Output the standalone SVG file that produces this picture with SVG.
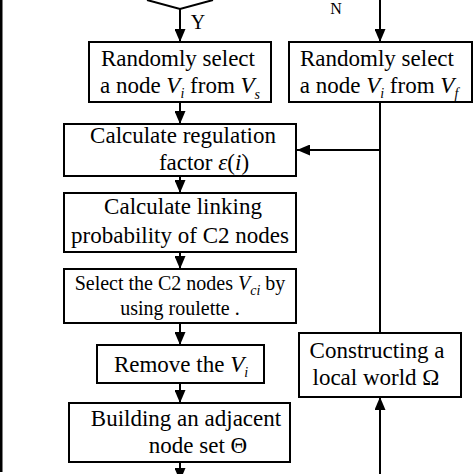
<svg xmlns="http://www.w3.org/2000/svg" width="474" height="474" viewBox="0 0 474 474">
<style>
.box{fill:#fff;stroke:#000;stroke-width:2}
.ln{fill:none;stroke:#000;stroke-width:2}
text{font-family:"Liberation Serif","Times New Roman",serif;font-size:23px;fill:#000;text-anchor:middle}
.sm{font-size:20px}
.it{font-style:italic}
.sub{font-size:14px;font-style:italic}
</style>
<defs>
<marker id="ah" viewBox="0 0 13 11" refX="13" refY="5.5" markerWidth="13" markerHeight="11" markerUnits="userSpaceOnUse" orient="auto"><path d="M0,0 L13,5.5 L0,11 z" fill="#000"/></marker>
</defs>
<rect x="0" y="0" width="2.5" height="472" fill="#000"/>
<g id="connectors">
<polyline class="ln" points="147,0 180,9 213,0"/>
<line class="ln" x1="180" y1="9" x2="180" y2="42" marker-end="url(#ah)"/>
<line class="ln" x1="380" y1="0" x2="380" y2="42" marker-end="url(#ah)"/>
<line class="ln" x1="180" y1="102" x2="180" y2="124" marker-end="url(#ah)"/>
<line class="ln" x1="180" y1="176" x2="180" y2="193" marker-end="url(#ah)"/>
<line class="ln" x1="180" y1="252" x2="180" y2="269" marker-end="url(#ah)"/>
<line class="ln" x1="180" y1="323" x2="180" y2="345" marker-end="url(#ah)"/>
<line class="ln" x1="180" y1="383" x2="180" y2="403" marker-end="url(#ah)"/>
<line class="ln" x1="180" y1="462" x2="180" y2="481" marker-end="url(#ah)"/>
<line class="ln" x1="380" y1="102" x2="380" y2="333"/>
<line class="ln" x1="380" y1="150" x2="297" y2="150" marker-end="url(#ah)"/>
<line class="ln" x1="380" y1="476" x2="380" y2="397" marker-end="url(#ah)"/>
<text x="198" y="29" style="font-size:20px">Y</text>
<text x="336" y="14" style="font-size:16px">N</text>
</g>
<g id="n1">
<rect class="box" x="89" y="42" width="182" height="60"/>
<text x="178" y="66">Randomly select</text>
<text x="180" y="93">a node <tspan class="it">V</tspan><tspan class="sub" dy="5">i</tspan><tspan dy="-5"> from </tspan><tspan class="it">V</tspan><tspan class="sub" dy="6">s</tspan></text>
</g>
<g id="n2">
<rect class="box" x="289" y="42" width="183" height="60"/>
<text x="377" y="66">Randomly select</text>
<text x="379" y="93">a node <tspan class="it">V</tspan><tspan class="sub" dy="5">i</tspan><tspan dy="-5"> from </tspan><tspan class="it">V</tspan><tspan class="sub" dy="5">f</tspan></text>
</g>
<g id="n3">
<rect class="box" x="64" y="124" width="232" height="52"/>
<text x="183" y="143">Calculate regulation</text>
<text x="204" y="170">factor <tspan class="it">ε</tspan>(<tspan class="it">i</tspan>)</text>
</g>
<g id="n4">
<rect class="box" x="64" y="193" width="232" height="59"/>
<text x="183" y="214">Calculate linking</text>
<text x="180" y="243">probability of C2 nodes</text>
</g>
<g id="n5">
<rect class="box" x="64" y="269" width="232" height="54"/>
<text class="sm" x="180" y="290">Select the C2 nodes <tspan class="it">V</tspan><tspan class="sub" dy="5">ci</tspan><tspan dy="-5"> by</tspan></text>
<text class="sm" x="180" y="315">using roulette .</text>
</g>
<g id="n6">
<rect class="box" x="97" y="345" width="167" height="38"/>
<text x="181" y="372">Remove the <tspan class="it">V</tspan><tspan class="sub" dy="5">i</tspan></text>
</g>
<g id="n7">
<rect class="box" x="69" y="403" width="221" height="59"/>
<text x="186" y="426">Building an adjacent</text>
<text x="198" y="453">node set Θ</text>
</g>
<g id="n8">
<rect class="box" x="299" y="333" width="162" height="64"/>
<text x="377" y="358">Constructing a</text>
<text x="376" y="385">local world  Ω</text>
</g>
</svg>
